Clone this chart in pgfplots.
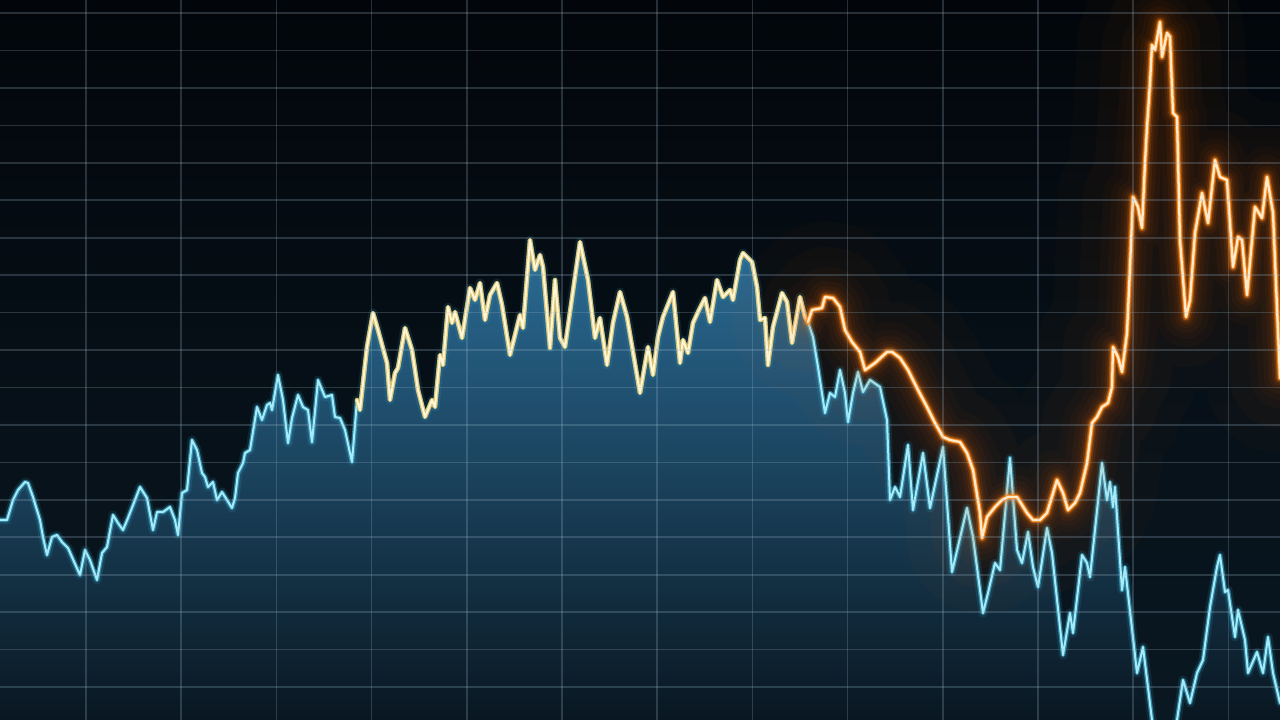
\documentclass[border=0pt]{standalone}
\usepackage{pgfplots}
\pgfplotsset{compat=1.18}
\usepackage{pgfplotstable}
\definecolor{bgtop}{HTML}{02060B}
\definecolor{bgbot}{HTML}{0A1822}
\definecolor{filltop}{HTML}{2B6C96}
\definecolor{fillmid}{HTML}{163D58}
\definecolor{fillbot}{HTML}{08141D}
\definecolor{cyanline}{HTML}{A6ECF8}
\definecolor{cyanedge}{HTML}{3FB6DC}
\definecolor{creamline}{HTML}{FFF6D8}
\definecolor{creamedge}{HTML}{E9C86E}
\definecolor{orcore}{HTML}{FFEBCB}
\definecolor{oredge}{HTML}{FF8A1C}
\definecolor{orglow}{HTML}{FF6A00}
\definecolor{gridc}{HTML}{9DB8CC}

\pgfplotstableread{
x y
0 200
7 200
13 220
18 230
25 238
28 237
33 223
40 200
43 183
47 165
52 183
57 185
62 178
68 172
72 163
80 145
85 170
90 160
97 140
102 167
107 173
113 205
118 197
123 190
128 202
140 233
147 222
153 190
157 208
163 208
170 213
175 200
178 185
182 227
187 230
192 280
197 270
202 247
205 243
208 233
213 238
217 220
222 228
227 220
232 212
235 222
238 247
243 257
245 267
250 270
257 313
262 300
267 315
270 317
272 310
278 345
283 320
288 277
292 302
298 325
303 313
308 310
312 278
318 340
325 323
332 325
335 303
340 302
345 290
352 258
357 320
360 310
367 373
373 407
378 390
387 357
390 320
395 347
398 352
405 392
412 370
418 330
425 303
432 320
435 313
440 365
443 355
448 413
452 397
455 408
462 382
470 432
475 420
480 437
485 400
490 425
497 437
502 415
510 365
520 405
523 392
530 480
535 450
540 465
543 453
550 372
555 440
560 382
565 373
580 478
588 440
595 382
600 402
607 355
613 397
620 428
627 403
640 327
648 373
653 345
658 383
663 403
673 428
680 357
683 380
688 367
693 397
698 408
705 422
710 398
717 440
723 423
730 430
733 420
740 460
743 467
752 458
757 433
760 400
765 402
768 355
773 393
782 427
787 418
792 377
800 423
805 403
808 398
813 383
818 353
825 307
830 327
835 323
840 350
845 327
848 298
853 327
858 348
863 328
870 340
880 333
887 300
890 220
895 233
900 223
908 275
913 210
923 267
930 212
943 273
952 148
967 212
973 183
983 107
988 127
995 157
1000 150
1010 262
1013 223
1017 170
1022 157
1028 188
1033 153
1038 133
1047 192
1052 167
1063 65
1070 107
1073 87
1082 165
1087 157
1090 143
1102 257
1107 220
1110 238
1113 213
1115 233
1122 130
1125 153
1137 47
1143 73
1152 0
1160 -15
1170 -12
1177 0
1183 40
1190 17
1197 47
1203 60
1210 113
1217 153
1220 165
1225 128
1228 130
1235 83
1238 110
1245 80
1248 47
1257 68
1263 47
1268 83
1273 47
1280 17
}\bluedata

\pgfplotstableread{
x y
808 398
812 410
822 412
825 423
833 422
840 413
845 390
852 378
860 368
865 350
875 357
887 368
892 368
900 362
908 350
918 330
927 313
935 297
943 283
950 280
960 278
967 267
973 250
980 207
982 182
987 203
995 213
1002 220
1008 223
1017 223
1027 207
1033 200
1040 200
1047 207
1057 240
1063 227
1068 210
1075 217
1080 227
1087 257
1092 297
1097 303
1102 313
1108 317
1112 333
1113 373
1118 363
1122 348
1127 387
1130 453
1133 523
1138 513
1142 492
1145 557
1147 593
1150 637
1152 675
1155 670
1160 698
1162 663
1167 687
1170 683
1173 607
1177 603
1180 480
1186 403
1190 420
1195 487
1202 527
1208 497
1215 560
1220 543
1227 540
1233 453
1238 483
1242 480
1247 425
1255 513
1262 502
1267 543
1273 507
1280 342
}\orangedata

\begin{document}
\begin{tikzpicture}
\begin{axis}[
  width=1280pt, height=720pt, scale only axis,
  xmin=0, xmax=1280, ymin=0, ymax=720,
  axis line style={draw=none},
  xtick={86,181.2,...,1230},
  ytick={33,70.44,...,708},
  xticklabels={}, yticklabels={},
  major tick length=0pt,
  grid=major,
  major grid style={line width=1.7pt, draw=gridc, draw opacity=0.24},
  axis on top,
  axis background/.style={shade, top color=bgtop, bottom color=bgbot},
  every axis plot/.append style={line join=round, line cap=round},
]
% area under the blue series
\addplot[draw=none, top color=filltop, middle color=fillmid, bottom color=fillbot] table {\bluedata} \closedcycle;

% broad orange haze behind everything on the right
\addplot[orglow, line width=150pt, opacity=0.025] table {\orangedata};
\addplot[orglow, line width=100pt, opacity=0.03] table {\orangedata};

% blue series glow and line
\addplot[cyanedge, line width=9pt, opacity=0.12] table {\bluedata};
\addplot[cyanedge, line width=4.5pt, opacity=0.6] table {\bluedata};
\addplot[cyanline, line width=2pt] table {\bluedata};

% cream middle section
\addplot[creamedge, line width=4.5pt, opacity=0.9, restrict x to domain=356:809] table {\bluedata};
\addplot[creamline, line width=2pt, restrict x to domain=356:809] table {\bluedata};

% orange series with soft glow
\addplot[orglow, line width=60pt, opacity=0.03] table {\orangedata};
\addplot[orglow, line width=44pt, opacity=0.035] table {\orangedata};
\addplot[orglow, line width=32pt, opacity=0.045] table {\orangedata};
\addplot[orglow, line width=22pt, opacity=0.06] table {\orangedata};
\addplot[orglow, line width=15pt, opacity=0.09] table {\orangedata};
\addplot[oredge, line width=10pt, opacity=0.16] table {\orangedata};
\addplot[oredge, line width=6.5pt, opacity=0.4] table {\orangedata};
\addplot[oredge, line width=4.2pt, opacity=0.95] table {\orangedata};
\addplot[orcore, line width=2.3pt] table {\orangedata};
\end{axis}
\pgfresetboundingbox
\path (current axis.south west) rectangle (current axis.north east);
\end{tikzpicture}
\end{document}
